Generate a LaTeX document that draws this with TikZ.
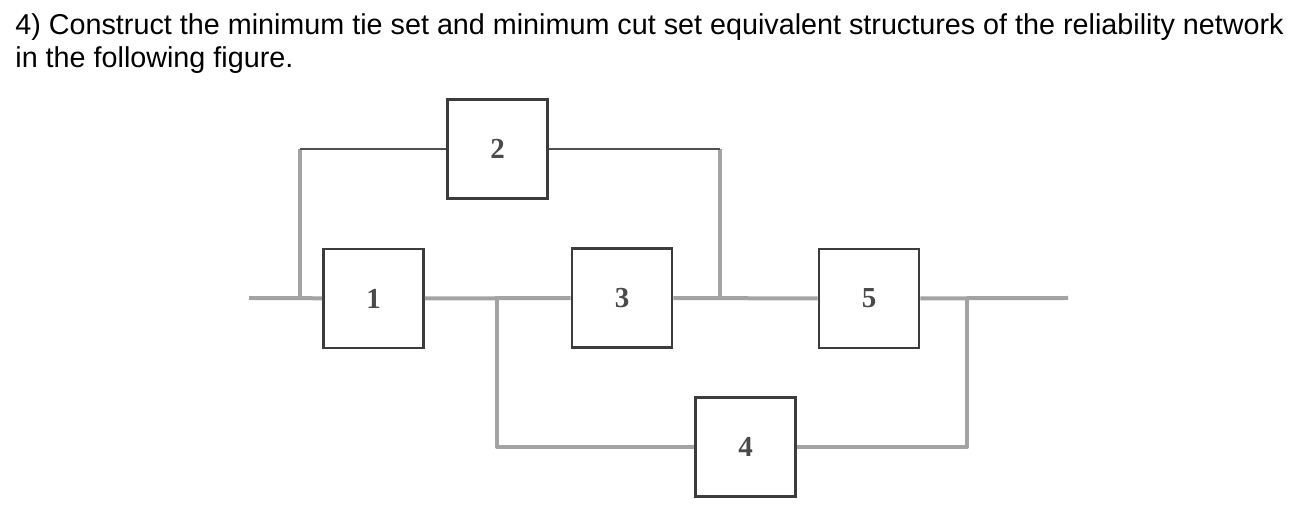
\documentclass[tikz,border=0pt]{standalone}
\usepackage{fontspec}
\setmainfont{Liberation Sans}
\newfontfamily\blockfont{Liberation Serif}
\definecolor{wire}{HTML}{A3A3A3}
\definecolor{topwire}{HTML}{505050}
\definecolor{frame}{HTML}{3C3C3C}
\definecolor{digit}{HTML}{4A4A4A}
\tikzset{
  unit/.style={draw=frame, line width=1.3pt, minimum width=50pt, minimum height=49.5pt,
    inner sep=0pt, fill=white, font=\blockfont\bfseries\fontsize{14.5}{14.5}\selectfont, text=digit},
  wire/.style={draw=wire, line width=2pt},
  upper/.style={draw=topwire, line width=1.4pt}
}
\begin{document}
\begin{tikzpicture}[x=0.5pt,y=-0.5pt]
        \useasboundingbox (0,0) rectangle (1307,512);
        \node[anchor=north west, align=left, inner sep=0pt, font=\fontsize{14.37}{16.8}\selectfont] (Q) at (15,13)
          {4) Construct the minimum tie set and minimum cut set equivalent structures of the reliability network\\
           in the following figure.};
        \node[unit] (B1) at (373.5,298.5) {1};
        \node[unit] (B2) at (497.5,149) {2};
        \node[unit] (B3) at (622,298) {3};
        \node[unit] (B4) at (745.5,447) {4};
        \node[unit] (B5) at (869,298.5) {5};
        \coordinate (In) at (249,298);
        \coordinate (Out) at (1068,298);
        \coordinate (J1) at (300,298);
        \coordinate (J2) at (720,298);
        \coordinate (J3) at (497,298);
        \coordinate (J4) at (967,298);
        \path[wire]
        (In) edge (B1)
        (B1) edge (B3)
        (B3) edge (B5)
        (B5) edge (Out);
        \draw[wire] (J1) -- (J1 |- B2);
        \draw[wire] (J2) -- (J2 |- B2);
        \draw[upper] (J1 |- B2) -- (B2.west);
        \draw[upper] (B2.east) -- (J2 |- B2);
        \draw[wire, line join=round] (J3) |- (B4.west);
        \draw[wire, line join=round] (B4.east) -| (J4);
\end{tikzpicture}
\end{document}
